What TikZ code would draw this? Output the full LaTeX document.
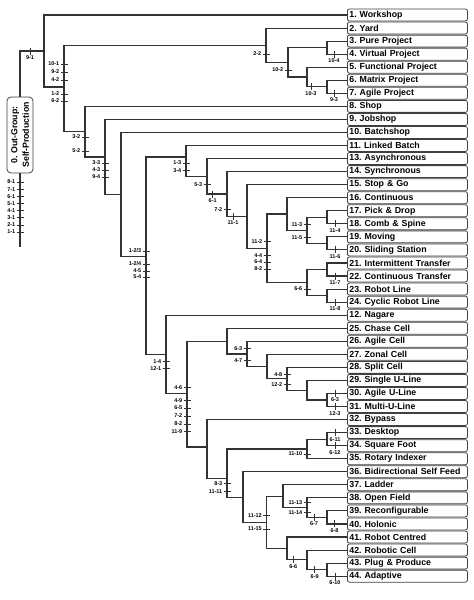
\documentclass[tikz,border=0pt]{standalone}
\usepackage{fontspec}
\setmainfont{Liberation Sans}
\frenchspacing
\begin{document}
\begin{tikzpicture}[x=1pt, y=-1pt,
    branch/.style={draw=black!80, line width=1.1pt},
    leaf/.style={draw=black!75, line width=0.8pt, rounded corners=2pt,
      fill=white, anchor=west, text width=116pt, inner xsep=2pt,
      inner ysep=0pt, minimum height=12pt, align=left,
      font=\fontsize{8.8}{9}\selectfont\bfseries},
    outgroup/.style={draw=black!75, line width=0.8pt, rounded corners=4pt,
      fill=white, rotate=90, minimum width=76pt, minimum height=26pt,
      inner sep=1pt, align=center, font=\fontsize{8.8}{11.5}\selectfont\bfseries},
    tick/.style={draw=black!80, line width=0.8pt},
    lab/.style={font=\fontsize{5.5}{6}\selectfont\bfseries, inner sep=0.8pt}
  ]
  \useasboundingbox (0,0) rectangle (474,600);

  % terminal taxa
  \foreach \t [count=\r] in {1. Workshop, 2. Yard, 3. Pure Project,
      4. Virtual Project, 5. Functional Project, 6. Matrix Project,
      7. Agile Project, 8. Shop, 9. Jobshop, 10. Batchshop,
      11. Linked Batch, 13. Asynchronous, 14. Synchronous, 15. Stop \& Go,
      16. Continuous, 17. Pick \& Drop, 18. Comb \& Spine, 19. Moving,
      20. Sliding Station, 21. Intermittent Transfer,
      22. Continuous Transfer, 23. Robot Line, 24. Cyclic Robot Line,
      12. Nagare, 25. Chase Cell, 26. Agile Cell, 27. Zonal Cell,
      28. Split Cell, 29. Single U-Line, 30. Agile U-Line,
      31. Multi-U-Line, 32. Bypass, 33. Desktop, 34. Square Foot,
      35. Rotary Indexer, 36. Bidirectional Self Feed, 37. Ladder,
      38. Open Field, 39. Reconfigurable, 40. Holonic, 41. Robot Centred,
      42. Robotic Cell, 43. Plug \& Produce, 44. Adaptive}
    \node[leaf] (r\r) at (347, {15+(\r-1)*13.05}) {\t};

  \node[outgroup] (root) at (20,135) {0. Out-Group:\\Self-Production};
  \coordinate (og) at (20,247);

  % internal nodes
  \coordinate (all) at (44,51);
  \coordinate (nonws) at (64,87);
  \coordinate (proj) at (266,45.5);
  \coordinate (proj2) at (288,62.3);
  \coordinate (pp) at (327,47.6);
  \coordinate (fp) at (307,77);
  \coordinate (mp) at (327,86.8);
  \coordinate (shop) at (85,131.5);
  \coordinate (job) at (105,157);
  \coordinate (batch) at (121,194.5);
  \coordinate (flow) at (146,256.5);
  \coordinate (line) at (186,157);
  \coordinate (async) at (207,176.7);
  \coordinate (sync) at (227,194);
  \coordinate (stop) at (247,216.4);
  \coordinate (cont) at (267,248.5);
  \coordinate (cnt) at (287,214);
  \coordinate (move) at (307,230.3);
  \coordinate (pd) at (327,217.3);
  \coordinate (ms) at (327,243.4);
  \coordinate (trf) at (307,282.5);
  \coordinate (it) at (327,269.5);
  \coordinate (rb) at (327,295.6);
  \coordinate (nag) at (166,354.5);
  \coordinate (cell) at (187,393.5);
  \coordinate (chase) at (227,341.5);
  \coordinate (agc) at (247,354);
  \coordinate (zon) at (267,366.6);
  \coordinate (spl) at (287,378.8);
  \coordinate (ul) at (307,390.2);
  \coordinate (mu) at (327,400);
  \coordinate (byp) at (207,447);
  \coordinate (desk) at (227,478.3);
  \coordinate (sq) at (307,449);
  \coordinate (dk) at (327,439.1);
  \coordinate (bid) at (243,497.1);
  \coordinate (lad) at (266.5,522.5);
  \coordinate (ldr) at (283,496.5);
  \coordinate (of) at (307,507.6);
  \coordinate (rc) at (327,517.4);
  \coordinate (rob) at (287,548.5);
  \coordinate (rcell) at (307,559.8);
  \coordinate (plug) at (327,569.6);

  % branches
  \draw[branch] (root) -- (og);
  \draw[branch] (root) |- (all);
  \foreach \p/\c in {all/r1, all/nonws, nonws/proj, nonws/shop,
      proj/r2, proj/proj2, proj2/pp, proj2/fp, pp/r3, pp/r4,
      fp/r5, fp/mp, mp/r6, mp/r7, shop/r8, shop/job, job/r9, job/batch,
      batch/r10, batch/flow, flow/line, flow/nag, line/r11, line/async,
      async/r12, async/sync, sync/r13, sync/stop, stop/r14, stop/cont,
      cont/cnt, cont/trf, cnt/r15, cnt/move, move/pd, move/ms,
      pd/r16, pd/r17, ms/r18, ms/r19, trf/it, trf/rb, it/r20, it/r21,
      rb/r22, rb/r23, nag/r24, nag/cell, cell/chase, cell/byp,
      chase/r25, chase/agc, agc/r26, agc/zon, zon/r27, zon/spl,
      spl/r28, spl/ul, ul/r29, ul/mu, mu/r30, mu/r31, byp/r32, byp/desk,
      desk/sq, desk/bid, sq/dk, sq/r35, dk/r33, dk/r34, bid/r36, bid/lad,
      lad/ldr, lad/rob, ldr/r37, ldr/of, of/r38, of/rc, rc/r39, rc/r40,
      rob/r41, rob/rcell, rcell/r42, rcell/plug, plug/r43, plug/r44}
    \draw[branch] (\p) |- (\c);

  % character changes on vertical branches
  \foreach \x/\y/\t in {20/182/8-1, 20/189.2/7-1, 20/196.3/6-1,
      20/203.4/5-1, 20/210.6/4-1, 20/217.7/3-1, 20/224.9/2-1, 20/232/1-1,
      64/64/10-1, 64/72/9-2, 64/80/4-2, 64/94/1-2, 64/101/6-2,
      266/54/2-2, 288/70/10-2, 85/137/3-2, 85/151/5-2,
      105/163/3-3, 105/170/4-3, 105/177/9-4,
      146/251/1-2\slash 3, 146/264/1-2\slash 4, 146/271/4-5, 146/277/5-4,
      186/163/1-3, 186/170.7/3-4, 207/184.3/5-3, 227/209.3/7-2,
      267/241.5/11-2, 267/255.3/4-4, 267/262/6-4, 267/269/8-2,
      307/224.3/11-3, 307/237.7/11-5, 307/289/6-6,
      166/361.7/1-4, 166/368.3/12-1,
      187/387.3/4-6, 187/400.7/4-9, 187/408/6-5, 187/416/7-2,
      187/424/8-2, 187/431.5/11-9,
      247/348.3/6-3, 247/360.5/4-7, 287/374.3/4-8, 287/384.3/12-2,
      307/454/11-10, 227/483.3/8-3, 227/491.3/11-11,
      266.5/515.5/11-12, 266.5/529/11-15, 307/502.7/11-13, 307/512.7/11-14}
    \draw[tick] (\x-3.5,\y) node[lab, left] {\t} -- (\x+3.5,\y);

  % character changes on horizontal branches
  \foreach \x/\y/\t in {30/51/9-1, 334/54.15/10-4, 311/86.8/10-3,
      334/93.3/9-3, 212.7/194/6-1, 233/216.4/11-1,
      335/223.8/11-4, 335/249.9/11-6, 335/276/11-7, 335/302.1/11-8,
      335/393.45/6-3, 335/406.5/12-3, 335/432.6/6-11, 335/445.65/6-12,
      314/517.4/6-7, 334.5/523.95/6-8, 293.3/559.8/6-6, 314.7/569.6/6-9,
      335/576.15/6-10}
    \draw[tick] (\x,\y-3.5) -- (\x,\y+3.5) node[lab, below] {\t};
\end{tikzpicture}
\end{document}
